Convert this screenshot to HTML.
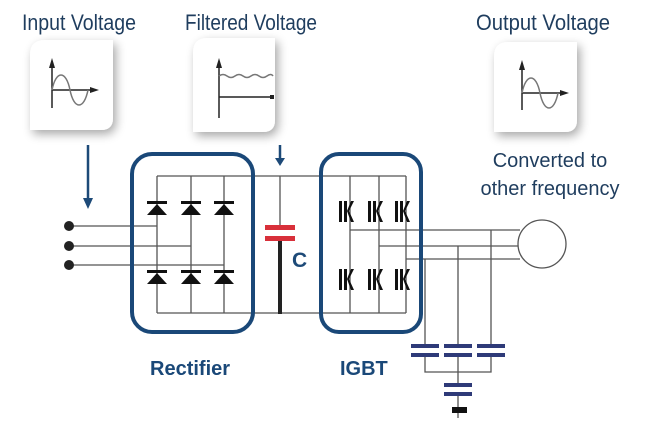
<!DOCTYPE html>
<html><head><style>
body{margin:0;background:#fff;width:650px;height:420px;overflow:hidden;font-family:"Liberation Sans",sans-serif}
</style></head><body>
<svg width="650" height="420" viewBox="0 0 650 420" xmlns="http://www.w3.org/2000/svg">
<defs>
<filter id="sh" x="-30%" y="-30%" width="160%" height="160%"><feGaussianBlur in="SourceAlpha" stdDeviation="5"/><feOffset dx="3" dy="4"/><feComponentTransfer><feFuncA type="linear" slope="0.35"/></feComponentTransfer><feMerge><feMergeNode/><feMergeNode in="SourceGraphic"/></feMerge></filter>
</defs>
<g font-size="22" fill="#1f3d5e" font-family="Liberation Sans, sans-serif">
<text x="22" y="30" textLength="114" lengthAdjust="spacingAndGlyphs">Input Voltage</text>
<text x="185" y="30" textLength="132" lengthAdjust="spacingAndGlyphs">Filtered Voltage</text>
<text x="476" y="30" textLength="134" lengthAdjust="spacingAndGlyphs">Output Voltage</text>
</g>
<!-- icon boxes -->
<g filter="url(#sh)" fill="#fff">
<path d="M45 40 H113 V118 Q113 130 101 130 H30 V55 Q30 40 45 40Z"/>
<path d="M207 38 H275 V120 Q275 132 263 132 H193 V53 Q193 38 207 38Z"/>
<path d="M508 42 H577 V120 Q577 132 565 132 H494 V57 Q494 42 508 42Z"/>
</g>
<g stroke="#222" stroke-width="1.5" fill="none">
<path d="M52 108 V66"/><path d="M52 90 H92"/>
<path d="M219 118 V66"/><path d="M219 97 H272"/>
<path d="M522 110 V68"/><path d="M522 93 H562"/>
</g>
<g fill="#222">
<path d="M49 68 L52 58 L55 68Z"/><path d="M90 87 L99 90 L90 93Z"/>
<path d="M216 68 L219 58 L222 68Z"/><rect x="270" y="95" width="4" height="4"/>
<path d="M519 70 L522 60 L525 70Z"/><path d="M560 90 L569 93 L560 96Z"/>
</g>
<g stroke="#777" stroke-width="1.5" fill="none">
<path d="M52 90 C56 70 66 70 70 90 C74 110 84 110 88 90"/>
<path d="M219 76 q4 -3 8 0 t8 0 t8 0 t8 0 t8 0 t8 0 t6 0"/>
<path d="M522 93 C526 73 536 73 540 93 C544 113 554 113 558 93"/>
</g>
<!-- arrows -->
<g stroke="#1d4a78" stroke-width="2.5" fill="#1d4a78">
<line x1="88" y1="145" x2="88" y2="200"/><path d="M83 198 L88 209 L93 198Z" stroke="none"/>
<line x1="280" y1="145" x2="280" y2="160"/><path d="M275 158 L280 166 L285 158Z" stroke="none"/>
</g>
<!-- circuit wires -->
<g stroke="#555" stroke-width="1.3" fill="none">
<path d="M157 176 H406 M157 313 H406"/>
<path d="M157 176 V313 M191 176 V313 M224 176 V313"/>
<path d="M350 176 V313 M379 176 V313 M406 176 V313"/>
<path d="M69 226 H157 M69 246 H191 M69 265 H224"/>
<path d="M280 176 V227"/>
<path d="M350 230 H520 M379 246 H518 M406 259 H520"/>
<path d="M425 259 V346 M458 246 V346 M491 230 V346"/>
<path d="M425 355 V372 H491 V355 M458 355 V385 M458 394 V418"/>
</g>
<circle cx="542" cy="244" r="24" fill="#fff" stroke="#555" stroke-width="1.3"/>
<g fill="#222"><circle cx="69" cy="226" r="5"/><circle cx="69" cy="246" r="5"/><circle cx="69" cy="265" r="5"/></g>
<!-- diodes -->
<g fill="#111">
<g id="d"><rect x="147" y="201" width="20" height="3"/><path d="M157 204 L147 215 H167Z"/></g>
<use href="#d" x="34"/><use href="#d" x="67"/>
<use href="#d" y="69"/><use href="#d" x="34" y="69"/><use href="#d" x="67" y="69"/>
</g>
<!-- IGBTs -->
<g fill="#111">
<g id="q"><rect x="339" y="201" width="3" height="21"/><rect x="344" y="201" width="3" height="21"/><path d="M347 211 L351 201 H354 L349 211 L354 222 H351 Z"/></g>
<use href="#q" x="29"/><use href="#q" x="56"/>
<use href="#q" y="68"/><use href="#q" x="29" y="68"/><use href="#q" x="56" y="68"/>
</g>
<!-- capacitor C -->
<rect x="265" y="225" width="30" height="5" fill="#d8303a"/>
<rect x="265" y="236" width="30" height="5" fill="#d8303a"/>
<rect x="278" y="241" width="4" height="73" fill="#222"/>
<text x="292" y="267" font-size="21" font-weight="bold" fill="#1d4a78">C</text>
<!-- output caps -->
<g fill="#2e3a78">
<rect x="411" y="344" width="28" height="4"/><rect x="411" y="353" width="28" height="4"/>
<rect x="444" y="344" width="28" height="4"/><rect x="444" y="353" width="28" height="4"/>
<rect x="477" y="344" width="28" height="4"/><rect x="477" y="353" width="28" height="4"/>
<rect x="444" y="383" width="28" height="4"/><rect x="444" y="392" width="28" height="4"/>
</g>
<rect x="452" y="407" width="15" height="6" fill="#111"/>
<!-- blocks -->
<g fill="none" stroke="#1a4878" stroke-width="4">
<rect x="132" y="154" width="121" height="178" rx="20"/>
<rect x="321" y="154" width="100" height="178" rx="18"/>
</g>
<g font-weight="bold" font-size="20" fill="#1a4878">
<text x="150" y="375">Rectifier</text>
<text x="340" y="375">IGBT</text>
</g>
<g font-size="20" fill="#1f3d5e" text-anchor="middle">
<text x="550" y="167">Converted to</text>
<text x="550" y="195">other frequency</text>
</g>
</svg>
</body></html>
